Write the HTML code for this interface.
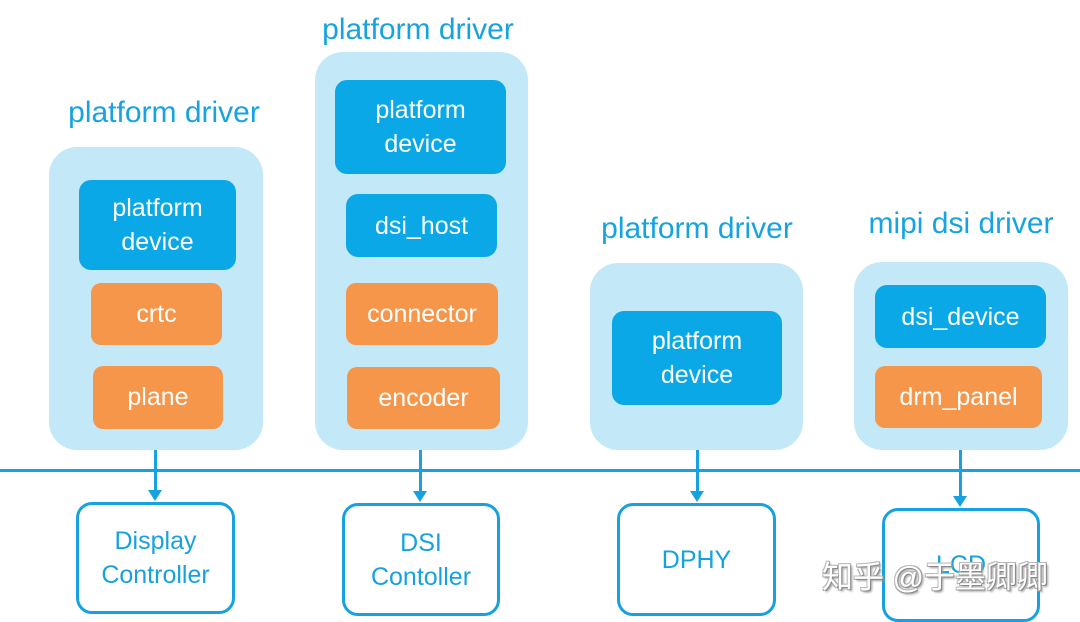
<!DOCTYPE html>
<html><head><meta charset="utf-8"><style>
body{margin:0;width:1080px;height:622px;background:#fff;position:relative;overflow:hidden;font-family:"Liberation Sans","Noto Sans CJK SC",sans-serif}
.a{position:absolute;box-sizing:border-box;display:flex;align-items:center;justify-content:center;text-align:center}
.o{background:#c3e9f9;border-radius:28px}
.d{background:#0aa8e6;color:#fff;border-radius:12px;font-size:25px;line-height:34px}
.r{background:#f5964a;color:#fff;border-radius:10px;font-size:25px}
.t{color:#17a3e0;font-size:30px;white-space:nowrap}
.b{border:3px solid #16a2e0;border-radius:16px;color:#16a2e0;font-size:25px;line-height:34px;background:#fff}
.v{position:absolute;width:3px;background:#16a2e0}
.h{position:absolute;width:0;height:0;border-left:7px solid transparent;border-right:7px solid transparent;border-top:11px solid #16a2e0}
</style></head><body>
<div class="a t" style="left:49px;width:230px;top:95px;height:36px">platform driver</div>
<div class="a o" style="left:49px;top:147px;width:214px;height:303px"></div>
<div class="a d" style="left:79px;top:180px;width:157px;height:90px">platform<br>device</div>
<div class="a r" style="left:91px;top:283px;width:131px;height:62px">crtc</div>
<div class="a r" style="left:93px;top:366px;width:130px;height:63px">plane</div>

<div class="a t" style="left:303px;width:230px;top:12px;height:36px">platform driver</div>
<div class="a o" style="left:315px;top:52px;width:213px;height:398px"></div>
<div class="a d" style="left:335px;top:80px;width:171px;height:94px">platform<br>device</div>
<div class="a d" style="left:346px;top:194px;width:151px;height:63px">dsi_host</div>
<div class="a r" style="left:346px;top:283px;width:152px;height:62px">connector</div>
<div class="a r" style="left:347px;top:367px;width:153px;height:62px">encoder</div>

<div class="a t" style="left:582px;width:230px;top:211px;height:36px">platform driver</div>
<div class="a o" style="left:590px;top:263px;width:213px;height:187px"></div>
<div class="a d" style="left:612px;top:311px;width:170px;height:94px">platform<br>device</div>

<div class="a t" style="left:846px;width:230px;top:206px;height:36px">mipi dsi driver</div>
<div class="a o" style="left:854px;top:262px;width:214px;height:188px"></div>
<div class="a d" style="left:875px;top:285px;width:171px;height:63px">dsi_device</div>
<div class="a r" style="left:875px;top:366px;width:167px;height:62px">drm_panel</div>

<div style="position:absolute;left:0;top:469px;width:1080px;height:3px;background:#16a2e0"></div>
<div class="v" style="left:154px;top:450px;height:42px"></div><div class="h" style="left:148px;top:490px"></div>
<div class="v" style="left:419px;top:450px;height:42px"></div><div class="h" style="left:413px;top:491px"></div>
<div class="v" style="left:696px;top:450px;height:42px"></div><div class="h" style="left:690px;top:491px"></div>
<div class="v" style="left:959px;top:450px;height:46px"></div><div class="h" style="left:953px;top:496px"></div>

<div class="a b" style="left:76px;top:502px;width:159px;height:112px">Display<br>Controller</div>
<div class="a b" style="left:342px;top:503px;width:158px;height:113px">DSI<br>Contoller</div>
<div class="a b" style="left:617px;top:503px;width:159px;height:113px">DPHY</div>
<div class="a b" style="left:882px;top:508px;width:158px;height:114px">LCD</div>
<div class="a" style="left:815px;top:552px;width:240px;height:44px;font-size:31px;color:#fff;text-shadow:1px 1px 0 #888,-1px -1px 0 #bbb,1px -1px 0 #aaa,-1px 1px 0 #aaa,2px 2px 2px #999;white-space:nowrap">知乎 @于墨卿卿</div>
</body></html>
